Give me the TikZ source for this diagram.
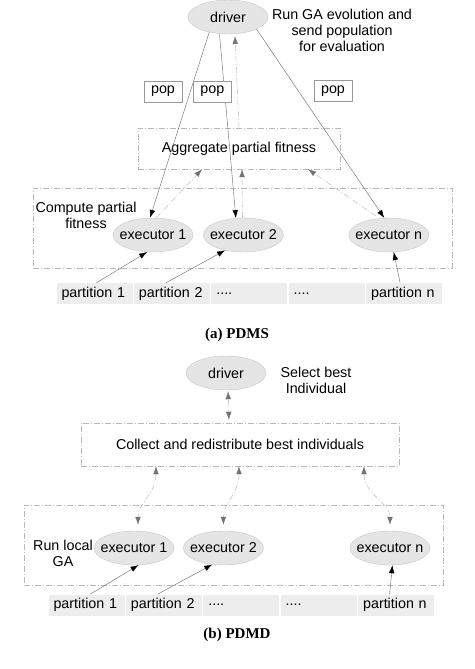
\documentclass[tikz,border=0pt]{standalone}
\usepackage{fontspec}
\setmainfont{Liberation Sans}
\newfontfamily\capfont{Liberation Serif}
\usetikzlibrary{positioning,shapes.geometric,arrows.meta}

\begin{document}
\begin{tikzpicture}[x=1pt, y=-1pt, font=\fontsize{14.3}{16}\selectfont]
      \tikzstyle{worker}=[ellipse, minimum width=80pt, minimum height=34pt, inner xsep=-12pt, inner ysep=0pt, draw=black!22, fill=black!10]
      \tikzstyle{popbox}=[rectangle, draw=black!40, fill=white, minimum width=38pt, minimum height=21pt, inner sep=1pt]
      \tikzstyle{dashbox}=[rectangle, draw=black!28, dash pattern=on 6pt off 2pt on 1pt off 2pt]
      \tikzstyle{part}=[rectangle, fill=black!7, text width=66pt, inner xsep=5pt, inner ysep=0pt, minimum height=21pt, node distance=1pt, align=left]
      \tikzstyle{note}=[align=center]
      \tikzstyle{caption}=[font=\fontsize{15}{18}\selectfont\capfont\bfseries]
      \tikzstyle{connect}=[-{Latex[length=8pt, width=5.5pt, color=black]}, draw=black!60]
      \tikzstyle{reply}=[-{Latex[length=8pt, width=5.5pt, color=black!55]}, draw=black!30, dash pattern=on 6pt off 2pt on 1pt off 2pt]
      \tikzstyle{exchange}=[{Latex[length=8pt, width=5.5pt, color=black!55]}-{Latex[length=8pt, width=5.5pt, color=black!55]}, draw=black!30, dash pattern=on 6pt off 2pt on 1pt off 2pt]

      \useasboundingbox (0,0) rectangle (474,669);

      % (a) PDMS
      \node[dashbox, minimum width=419pt, minimum height=80pt] (compute) at (242.5,228) {};
      \node[dashbox, minimum width=202pt, minimum height=41pt] (agg) at (239,148.5) {Aggregate partial fitness};
      \node[note] (computetxt) at (86,215.5) {Compute partial\\fitness};

      \node[worker] (driver) at (228,17) {driver};
      \node[note] (drivertxt) at (342,30) {Run GA evolution and\\send population\\for evaluation};

      \node[worker] (exec1) at (153,235) {executor 1};
      \node[worker] (exec2) [right=10pt of exec1] {executor 2};
      \node[worker] (execn) [right=65pt of exec2] {executor n};

      \node[part] (p1) at (94.5,293.5) {partition 1};
      \node[part] (p2) [right=of p1] {partition 2};
      \node[part] (p3) [right=of p2] {....};
      \node[part] (p4) [right=of p3] {....};
      \node[part] (pn) [right=of p4] {partition n};

      \path (driver.219) edge [connect] (exec1.100)
            (driver.243) edge [connect] (exec2.114)
            (driver.337) edge [connect] (execn.105);

      \node[popbox] (pop1) at (163,91.5) {pop};
      \node[popbox] (pop2) [right=11pt of pop1] {pop};
      \node[popbox] (pop3) at (333,91) {pop};

      \path (agg.north) edge [reply, shorten >=2pt] (driver.292)
            (exec1.79) edge [reply] ([xshift=-37pt]agg.south)
            ([xshift=-1pt]exec2.north) edge [reply] ([xshift=3pt]agg.south)
            (execn.120) edge [reply, shorten <=4pt] ([xshift=69pt]agg.south);

      \path ([xshift=2pt]p1.north) edge [connect] (exec1.251)
            ([xshift=-6pt]p2.north) edge [connect] (exec2.220)
            ([xshift=-4pt]pn.north) edge [connect] (execn.286);

      \node[caption] (capa) at (237,335) {(a) PDMS};

      % (b) PDMD
      \node[dashbox, minimum width=419pt, minimum height=80pt] (runlocal) at (233.5,545) {};
      \node[dashbox, minimum width=318pt, minimum height=43pt] (collect) at (240,444.5) {Collect and redistribute best individuals};
      \node[note] (runlocaltxt) at (63,553) {Run local\\GA};

      \node[worker] (driverb) at (226,373) {driver};
      \node[note] (driverbtxt) at (316,380) {Select best\\Individual};

      \node[worker] (execb1) at (134,548) {executor 1};
      \node[worker] (execb2) [right=9pt of execb1] {executor 2};
      \node[worker] (execbn) at (390,548) {executor n};

      \node[part] (pb1) at (86.5,605) {partition 1};
      \node[part] (pb2) [right=of pb1] {partition 2};
      \node[part] (pb3) [right=of pb2] {....};
      \node[part] (pb4) [right=of pb3] {....};
      \node[part] (pbn) [right=of pb4] {partition n};

      \path ([xshift=2pt]driverb.south) edge [exchange, shorten <=1pt, shorten >=3pt] ([xshift=-11pt]collect.north);
      \draw [exchange, shorten >=6pt] ([xshift=-84pt]collect.south) .. controls +(0,28) and +(0,-28) .. ([xshift=4pt]execb1.north);
      \draw [exchange, shorten >=6pt] ([xshift=-1pt]collect.south) .. controls +(0,28) and +(0,-28) .. (execb2.north);
      \draw [exchange, shorten >=6pt] ([xshift=124pt]collect.south) .. controls +(0,28) and +(0,-28) .. (execbn.north);

      \path ([xshift=3.5pt]pb1.north) edge [connect] (execb1.285)
            ([xshift=-6.5pt]pb2.north) edge [connect] (execb2.236)
            ([xshift=-6.5pt]pbn.north) edge [connect] (execbn.278);

      \node[caption] (capb) at (237,635) {(b) PDMD};
\end{tikzpicture}
\end{document}
